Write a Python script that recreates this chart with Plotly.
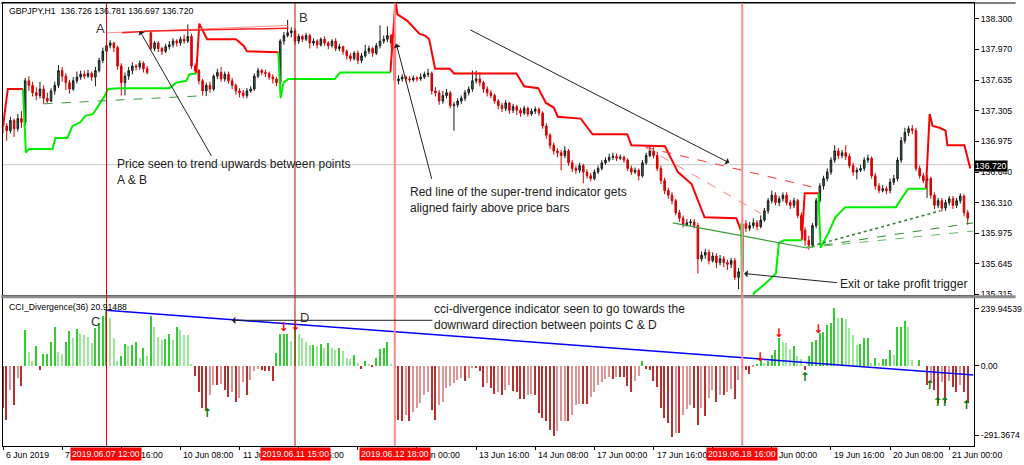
import plotly.graph_objects as go

# ---------------- price data (GBPJPY H1, bar index 0 = 6 Jun 2019 08:00) ----------------
opens = [
 137.20,137.14,137.09,137.20,137.11,137.22,137.18,137.63,137.58,137.50,
 137.47,137.54,137.44,137.41,137.52,137.58,137.74,137.68,137.61,137.54,
 137.63,137.67,137.70,137.68,137.71,137.67,137.74,137.85,137.95,138.01,
 138.04,137.99,137.79,137.61,137.68,137.74,137.79,137.78,137.82,137.76,
 138.15,137.98,138.04,137.98,137.95,138.00,138.02,138.06,138.04,138.08,
 138.06,138.11,137.79,137.74,137.63,137.52,137.58,137.54,137.68,137.72,
 137.65,137.70,137.63,137.58,137.52,137.50,137.47,137.52,137.54,137.68,
 137.74,137.72,137.71,137.67,137.65,137.61,138.06,138.12,138.15,138.17,
 138.06,138.11,138.08,138.12,138.04,138.06,138.02,138.08,138.04,138.01,
 138.06,137.98,138.00,137.95,137.90,137.87,137.93,137.85,137.90,137.95,
 137.98,137.93,138.01,138.06,138.08,138.12,138.04,137.63,137.65,137.67,
 137.65,137.64,137.66,137.65,137.67,137.70,137.71,137.52,137.50,137.41,
 137.47,137.50,137.36,137.37,137.41,137.44,137.50,137.54,137.63,137.65,
 137.61,137.54,137.50,137.47,137.41,137.36,137.33,137.39,137.31,137.35,
 137.31,137.28,137.33,137.27,137.30,137.32,137.28,137.14,137.04,136.93,
 136.87,136.85,136.82,136.87,136.74,136.68,136.66,136.71,136.64,136.60,
 136.57,136.64,136.68,136.74,136.77,136.80,136.81,136.79,136.80,136.77,
 136.68,136.64,136.66,136.60,136.74,136.82,136.87,136.82,136.68,136.55,
 136.44,136.39,136.33,136.20,136.14,136.07,136.09,136.10,136.06,135.70,
 135.74,135.77,135.68,135.73,135.66,135.70,135.66,135.64,135.68,135.50,
 135.56,136.08,136.03,136.06,136.09,136.05,136.12,136.22,136.33,136.39,
 136.31,136.35,136.39,136.31,136.28,136.33,136.17,136.01,135.90,135.85,
 136.06,136.33,136.49,136.57,136.64,136.77,136.87,136.82,136.85,136.81,
 136.71,136.64,136.66,136.68,136.77,136.79,136.60,136.49,136.44,136.46,
 136.44,136.53,136.57,136.77,136.98,137.07,137.11,137.09,136.68,136.60,
 136.55,136.57,136.39,136.28,136.33,136.25,136.31,136.35,136.28,136.33,
 136.38,136.20]
highs = [
 137.23,137.17,137.24,137.22,137.27,137.30,137.66,137.68,137.62,137.56,
 137.62,137.58,137.50,137.55,137.62,137.80,137.78,137.71,137.64,137.67,
 137.73,137.74,137.74,137.75,137.73,137.78,137.88,137.99,138.06,138.07,
 138.05,138.01,137.82,137.72,137.78,137.83,137.81,137.85,137.84,137.79,
 138.17,138.06,138.06,138.00,138.03,138.06,138.09,138.08,138.11,138.13,
 138.24,138.14,137.82,137.76,137.65,137.61,137.62,137.70,137.76,137.78,
 137.73,137.73,137.66,137.60,137.55,137.53,137.55,137.57,137.71,137.77,
 137.76,137.75,137.73,137.70,137.67,138.08,138.16,138.29,138.21,138.20,
 138.14,138.13,138.15,138.14,138.09,138.08,138.10,138.11,138.06,138.08,
 138.09,138.03,138.01,137.97,137.93,137.95,137.96,137.93,138.02,138.01,
 138.00,138.04,138.23,138.12,138.22,138.14,138.16,137.69,137.70,137.69,
 137.68,137.69,137.68,137.71,137.73,137.76,137.73,137.56,137.53,137.52,
 137.54,137.52,137.40,137.44,137.47,137.53,137.57,137.74,137.74,137.72,
 137.63,137.57,137.53,137.49,137.43,137.39,137.42,137.40,137.38,137.37,
 137.34,137.36,137.35,137.33,137.35,137.34,137.30,137.17,137.06,136.96,
 136.90,136.88,136.92,136.89,136.77,136.71,136.74,136.73,136.67,136.63,
 136.67,136.71,136.77,136.80,136.84,136.85,136.84,136.83,136.82,136.79,
 136.71,136.69,136.68,136.77,136.85,136.93,136.91,136.86,136.71,136.58,
 136.47,136.42,136.35,136.23,136.17,136.13,136.13,136.13,136.09,135.78,
 135.81,135.80,135.77,135.76,135.74,135.73,135.69,135.71,135.71,135.60,
 136.12,136.12,136.10,136.14,136.12,136.17,136.25,136.36,136.44,136.42,
 136.38,136.42,136.42,136.34,136.36,136.35,136.20,136.04,135.95,136.09,
 136.36,136.52,136.60,136.68,136.80,136.93,136.90,136.88,136.93,136.84,
 136.74,136.69,136.72,136.80,136.83,136.81,136.63,136.52,136.50,136.49,
 136.57,136.61,136.80,137.02,137.12,137.14,137.15,137.12,136.71,136.63,
 136.61,136.59,136.42,136.36,136.36,136.34,136.38,136.38,136.36,136.41,
 136.40,136.23]
lows = [
 137.06,136.98,137.06,137.02,137.08,137.12,137.15,137.52,137.46,137.42,
 137.44,137.38,137.39,137.40,137.48,137.55,137.62,137.53,137.49,137.52,
 137.60,137.64,137.65,137.66,137.63,137.57,137.72,137.82,137.93,137.98,
 137.94,137.75,137.47,137.47,137.64,137.70,137.74,137.75,137.72,137.70,
 137.96,137.95,137.94,137.91,137.93,137.97,137.99,138.00,138.01,138.03,
 138.04,137.76,137.70,137.59,137.47,137.47,137.50,137.52,137.65,137.62,
 137.62,137.60,137.54,137.48,137.45,137.44,137.44,137.50,137.52,137.66,
 137.69,137.67,137.64,137.60,137.57,137.58,138.02,138.10,138.10,138.02,
 138.03,138.05,138.06,137.98,138.01,137.98,138.00,138.01,137.97,137.99,
 137.95,137.95,137.91,137.86,137.84,137.85,137.81,137.82,137.88,137.92,
 137.89,137.91,137.98,138.03,138.05,137.99,137.58,137.59,137.62,137.62,
 137.61,137.62,137.62,137.63,137.65,137.67,137.48,137.46,137.37,137.38,
 137.44,137.33,137.09,137.34,137.38,137.41,137.47,137.51,137.60,137.57,
 137.50,137.46,137.44,137.38,137.32,137.29,137.30,137.27,137.28,137.26,
 137.24,137.26,137.24,137.25,137.27,137.25,137.11,137.00,136.89,136.83,
 136.80,136.66,136.79,136.71,136.64,136.62,136.63,136.52,136.57,136.54,
 136.55,136.62,136.66,136.72,136.75,136.77,136.76,136.77,136.74,136.65,
 136.61,136.62,136.55,136.58,136.72,136.80,136.79,136.65,136.51,136.40,
 136.35,136.29,136.17,136.10,136.04,136.05,136.06,136.03,135.54,135.67,
 135.70,135.64,135.66,135.60,135.63,135.61,135.58,135.60,135.47,135.37,
 135.50,135.99,136.00,136.03,136.01,136.03,136.10,136.19,136.30,136.28,
 136.27,136.32,136.28,136.24,136.25,136.14,135.97,135.84,135.80,135.82,
 136.03,136.30,136.45,136.54,136.61,136.74,136.78,136.79,136.77,136.68,
 136.60,136.56,136.64,136.65,136.74,136.57,136.45,136.41,136.42,136.40,
 136.41,136.50,136.54,136.74,136.95,137.03,137.05,136.65,136.57,136.52,
 136.36,136.35,136.24,136.25,136.21,136.22,136.28,136.24,136.25,136.30,
 136.16,136.07]
closes = [
 137.14,137.09,137.20,137.11,137.22,137.18,137.63,137.58,137.50,137.47,
 137.54,137.44,137.41,137.52,137.58,137.74,137.68,137.61,137.54,137.63,
 137.67,137.70,137.68,137.71,137.67,137.74,137.85,137.95,138.01,138.04,
 137.99,137.79,137.61,137.68,137.74,137.79,137.78,137.82,137.76,137.72,
 137.98,138.04,137.98,137.95,138.00,138.02,138.06,138.04,138.08,138.06,
 138.11,137.79,137.74,137.63,137.52,137.58,137.54,137.68,137.72,137.65,
 137.70,137.63,137.58,137.52,137.50,137.47,137.52,137.54,137.68,137.74,
 137.72,137.71,137.67,137.65,137.61,138.06,138.12,138.15,138.17,138.06,
 138.11,138.08,138.12,138.04,138.06,138.02,138.08,138.04,138.01,138.06,
 137.98,138.00,137.95,137.90,137.87,137.93,137.85,137.90,137.95,137.98,
 137.93,138.01,138.06,138.08,138.12,138.04,137.63,137.65,137.67,137.65,
 137.64,137.66,137.65,137.67,137.70,137.71,137.52,137.50,137.41,137.47,
 137.50,137.36,137.37,137.41,137.44,137.50,137.54,137.63,137.65,137.61,
 137.54,137.50,137.47,137.41,137.36,137.33,137.39,137.31,137.35,137.31,
 137.28,137.33,137.27,137.30,137.32,137.28,137.14,137.04,136.93,136.87,
 136.85,136.82,136.87,136.74,136.68,136.66,136.71,136.64,136.60,136.57,
 136.64,136.68,136.74,136.77,136.80,136.81,136.79,136.80,136.77,136.68,
 136.64,136.66,136.60,136.74,136.82,136.87,136.82,136.68,136.55,136.44,
 136.39,136.33,136.20,136.14,136.07,136.09,136.10,136.06,135.70,135.74,
 135.77,135.68,135.73,135.66,135.70,135.66,135.64,135.68,135.50,135.56,
 136.08,136.03,136.06,136.09,136.05,136.12,136.22,136.33,136.39,136.31,
 136.35,136.39,136.31,136.28,136.33,136.17,136.01,135.90,135.85,136.06,
 136.33,136.49,136.57,136.64,136.77,136.87,136.82,136.85,136.81,136.71,
 136.64,136.66,136.68,136.77,136.79,136.60,136.49,136.44,136.46,136.44,
 136.53,136.57,136.77,136.98,137.07,137.11,137.09,136.68,136.60,136.55,
 136.57,136.39,136.28,136.33,136.25,136.31,136.35,136.28,136.33,136.38,
 136.20,136.14]

# ---------------- super-trend knots (bar index, price); None separates segments ----------------
st_red_idx = [0, 1.3, 5.4, None,
              52.3, 53.1, 55.2, 63.0, 65.1, 66.0, 74.5, None,
              104.8, 106.2, 106.7, 109.4, 112.6, 114.2, 115.3, 116.9, 120.9, 122.0, 138.9, 141.0,
              144.8, 146.9, 149.0, 150.1, 156.3, 159.5, 168.9, 170.0, 179.1, 182.6, 186.3, 189.8,
              198.4, 199.6, None,
              216.1, 216.9, 220.6, None,
              249.7, 250.7, 251.5, 253.4, 255.0, 255.5, 260.1, 261.7]
st_red_price = [137.14, 137.54, 137.54, None,
                137.71, 138.25, 138.08, 138.08, 138.01, 137.95, 137.94, None,
                137.72, 138.50, 138.35, 138.28, 138.14, 138.12, 138.08, 137.76, 137.76, 137.71, 137.71, 137.57,
                137.55, 137.39, 137.34, 137.24, 137.22, 137.05, 137.05, 136.93, 136.92, 136.64, 136.51, 136.15,
                136.14, 136.01, None,
                135.90, 136.41, 136.41, None,
                136.46, 137.27, 137.14, 137.12, 137.09, 136.93, 136.93, 136.68]
st_green_idx = [5.4, 6.2, 7.0, 13.4, 14.2, 17.4, 18.8, 20.9, 22.3, 24.4, 26.3, 27.6, 28.4, 31.6, 45.0,
                46.9, 49.6, 50.4, 52.3, None,
                74.5, 75.1, 75.9, 77.2, 89.8, 91.2, 104.8, None,
                199.7, 200.0, 201.9, 203.2, 206.2, 209.1, 209.9, 211.3, 216.1, None,
                220.6, 221.2, 223.3, 225.2, 227.9, 241.6, 243.0, 244.9, 249.7]
st_green_price = [137.54, 136.85, 136.89, 136.89, 137.01, 137.01, 137.14, 137.18, 137.25, 137.27, 137.39,
                  137.47, 137.54, 137.55, 137.55, 137.61, 137.63, 137.70, 137.71, None,
                  137.94, 137.44, 137.61, 137.65, 137.65, 137.72, 137.72, None,
                  136.08, 135.15, 135.15, 135.33, 135.43, 135.54, 135.87, 135.90, 135.90, None,
                  136.41, 135.82, 135.98, 136.15, 136.26, 136.26, 136.35, 136.46, 136.46]

# ---------------- divergence lines drawn on price ----------------
bear_div_a_idx, bear_div_a_price = [28.2, 77.2], [138.15, 138.23]
bear_div_b_idx, bear_div_b_price = [32.2, 40.2, 77.2], [138.15, 138.17, 138.20]
bear_div_c_idx, bear_div_c_price = [173.7, 219.8, 221.2], [136.91, 136.47, 136.47]
bear_div_d_idx, bear_div_d_price = [173.7, 205.1], [136.91, 136.19]
bull_div_a_idx, bull_div_a_price = [11.0, 55.2], [137.38, 137.47]
bull_div_b_idx, bull_div_b_price = [181.2, 217.2], [136.09, 135.82]
bull_div_c_idx, bull_div_c_price = [217.2, 253.6], [135.82, 136.22]
bull_div_d_idx, bull_div_d_price = [217.2, 262.5], [135.82, 136.09]
bull_div_e_idx, bull_div_e_price = [217.2, 262.5], [135.82, 136.00]

# ---------------- CCI divergence (36) ----------------
cci = [
 -179,-227,-102,-165,-53,-84,149,56,21,80,
 -18,47,47,100,163,56,47,100,145,114,
 152,131,128,121,93,156,177,209,233,198,
 117,17,38,89,80,86,98,33,73,38,
 209,163,121,107,112,131,107,160,149,128,
 126,3,-46,-112,-179,-186,-123,-81,-81,-78,
 -102,-133,-109,-151,-137,-70,-123,-60,-22,-14,
 -18,-22,-22,-67,52,131,131,131,103,170,
 131,114,98,84,86,80,89,75,93,73,
 66,75,59,31,28,45,10,-14,17,3,
 -4,33,70,73,100,6,-10,-227,-234,-209,
 -234,-195,-179,-158,-123,-109,-186,-227,-165,-151,
 -95,-84,-74,-60,-53,-64,-53,-11,-11,-22,
 -88,-74,-95,-120,-109,-123,-102,-81,-106,-109,
 -140,-140,-123,-120,-123,-200,-218,-232,-269,-297,
 -276,-234,-232,-232,-206,-165,-162,-162,-162,-134,
 -109,-81,-70,-56,-50,-56,-50,-50,-50,-84,
 -112,-67,-46,17,-14,-18,-67,-88,-179,-220,
 -241,-301,-283,-283,-206,-181,-165,-179,-251,-179,
 -213,-137,-102,-151,-123,-123,-109,-98,-140,-60,
 -10,-18,-36,-4,3,24,10,17,45,66,
 117,100,93,70,80,38,28,-18,38,100,
 107,135,142,170,177,240,198,201,195,159,
 128,86,89,114,117,10,33,10,28,28,
 66,45,163,163,187,163,24,0,24,0,
 -81,-70,-102,-158,-70,-158,-67,-88,-109,-81,
 -109,-158]
cci_trend_idx, cci_trend_val = [28, 262.5], [233, -38]
sell_arrow_idx, sell_arrow_val = [75.9, 79.1, 204.8, 209.9, 220.6], [158, 162, 32, 133, 149]
buy_arrow_idx, buy_arrow_val = [55.2, 216.9, 250.7, 252.8, 254.7, 260.6], [-202, -51, -85, -156, -156, -168]

# ---------------- axis labels ----------------
price_ticks = [138.300, 137.970, 137.635, 137.305, 136.975, 136.640, 136.310, 135.975, 135.645, 135.315]
cci_ticks = [239.94539, 0.0, -291.3674]
cci_tick_text = ["239.94539", "0.00", "-291.3674"]
time_tick_idx = [0, 16, 32, 48, 64, 80, 96, 112, 128, 144, 160, 176, 192, 208, 224, 240, 256]
# visible part of each time label (some are partly hidden behind the red date tags)
time_tick_text = ["6 Jun 2019", "7", "16:00", "10 Jun 08:00", "11 Ju", "5:00",
                  "", "un 00:00", "13 Jun 16:00", "14 Jun 08:00", "17 Jun 00:00",
                  "17 Jun 16:00", "", "Jun 00:00", "19 Jun 16:00", "20 Jun 08:00",
                  "21 Jun 00:00"]
# trailing fragments are right-aligned to where the full label would end (pixel offset)
time_tick_tail = [None, None, 44, None, None, 47, None, 45, None, None, None, None, None, 47,
                  None, None, None]
marked_idx = [28, 79, 106, 200]
marked_text = ["2019.06.07 12:00", "2019.06.11 15:00", "2019.06.12 18:00", "2019.06.18 16:00"]
last_price = 136.720

# ---------------- layout geometry (pixels of the 1024x465 page) ----------------
W, H = 1024, 465
L_PX, R_PX, T_PX, B_PX = 2, 982, 2, 446
MAIN_BOTTOM_PX, SUB_TOP_PX = 295, 298
FONT = "Liberation Sans, Arial, sans-serif"


def px(xp):
    return (xp - L_PX) / (R_PX - L_PX)


def py(yp):
    return (B_PX - yp) / (B_PX - T_PX)


idx = list(range(len(closes)))

fig = go.Figure()
fig.add_trace(go.Candlestick(
    x=idx, open=opens, high=highs, low=lows, close=closes,
    increasing=dict(line=dict(color="#1a1a1a", width=1), fillcolor="#2e7a4e"),
    decreasing=dict(line=dict(color="#d40000", width=1), fillcolor="#e00000"),
    whiskerwidth=0, showlegend=False, hoverinfo="skip", xaxis="x", yaxis="y"))

fig.add_trace(go.Scatter(x=st_red_idx, y=st_red_price, mode="lines", connectgaps=False,
                         line=dict(color="#ff0000", width=2), showlegend=False, hoverinfo="skip"))
fig.add_trace(go.Scatter(x=st_green_idx, y=st_green_price, mode="lines", connectgaps=False,
                         line=dict(color="#00ee00", width=2), showlegend=False, hoverinfo="skip"))

for xs, ys, col, w, dash in [
    (bear_div_a_idx, bear_div_a_price, "#ff9090", 1, "solid"),
    (bear_div_b_idx, bear_div_b_price, "#ff2020", 1.5, "solid"),
    (bear_div_c_idx, bear_div_c_price, "#ff3030", 1, "dash"),
    (bear_div_d_idx, bear_div_d_price, "#ff8080", 1, "dash"),
    (bull_div_a_idx, bull_div_a_price, "#3a9a3a", 1, "dash"),
    (bull_div_b_idx, bull_div_b_price, "#3a9a3a", 1.2, "solid"),
    (bull_div_c_idx, bull_div_c_price, "#2e7d2e", 1.5, "dot"),
    (bull_div_d_idx, bull_div_d_price, "#2e8b2e", 1, "dash"),
    (bull_div_e_idx, bull_div_e_price, "#66bb66", 1, "dash"),
]:
    fig.add_trace(go.Scatter(x=xs, y=ys, mode="lines", line=dict(color=col, width=w, dash=dash),
                             showlegend=False, hoverinfo="skip"))

# CCI histogram colours (style only)
cci_colors = []
prev = 0
for v in cci:
    if v >= 0:
        cci_colors.append("#33cc33" if v >= prev else "#9be89b")
    else:
        cci_colors.append("#b83030" if v <= prev else "#e09595")
    prev = v

fig.add_trace(go.Bar(x=idx, y=cci, width=0.38, marker=dict(color=cci_colors, line=dict(width=0)),
                     showlegend=False, hoverinfo="skip", xaxis="x2", yaxis="y2"))
fig.add_trace(go.Scatter(x=cci_trend_idx, y=cci_trend_val, mode="lines", line=dict(color="#0000ff", width=1.5),
                         showlegend=False, hoverinfo="skip", xaxis="x2", yaxis="y2"))
fig.add_trace(go.Scatter(x=sell_arrow_idx, y=sell_arrow_val, mode="text", text=["<b>\u2193</b>"] * len(sell_arrow_idx),
                         textfont=dict(family="DejaVu Sans", size=12, color="#ff0000"),
                         showlegend=False, hoverinfo="skip", xaxis="x2", yaxis="y2"))
fig.add_trace(go.Scatter(x=buy_arrow_idx, y=buy_arrow_val, mode="text", text=["<b>\u2191</b>"] * len(buy_arrow_idx),
                         textfont=dict(family="DejaVu Sans", size=12, color="#0a7a0a"),
                         showlegend=False, hoverinfo="skip", xaxis="x2", yaxis="y2"))

xrange = [0.0, 262.7]
main_dom = [py(MAIN_BOTTOM_PX), 1.0]
sub_dom = [0.0, py(SUB_TOP_PX)]

axis_common = dict(showgrid=False, zeroline=False, showline=True, linecolor="#000000", linewidth=1, mirror=True)
fig.update_layout(
    width=W, height=H,
    margin=dict(l=L_PX, r=W - R_PX, t=T_PX, b=H - B_PX, pad=0),
    paper_bgcolor="white", plot_bgcolor="white",
    showlegend=False, boxgap=0.4, bargap=0,
    font=dict(family=FONT, size=9, color="#000000"),
    xaxis=dict(domain=[0, 1], range=xrange, anchor="y", showticklabels=False, ticks="",
               rangeslider=dict(visible=False), **axis_common),
    yaxis=dict(domain=main_dom, range=[135.304, 138.473], side="right", anchor="x",
               tickvals=price_ticks, ticktext=["%.3f" % v for v in price_ticks],
               ticks="outside", ticklen=4, tickcolor="#000000",
               tickfont=dict(family=FONT, size=8.7, color="#000000"), **axis_common),
    xaxis2=dict(domain=[0, 1], matches="x", range=xrange, anchor="y2", showticklabels=False,
                tickvals=time_tick_idx, ticks="outside", ticklen=3, tickcolor="#000000", **axis_common),
    yaxis2=dict(domain=sub_dom, range=[-336, 283], side="right", anchor="x2",
                tickvals=cci_ticks, ticktext=cci_tick_text, ticks="outside", ticklen=4, tickcolor="#000000",
                tickfont=dict(family=FONT, size=8.7, color="#000000"), **axis_common),
)

shapes = []
shapes.append(dict(type="rect", xref="paper", yref="paper", x0=px(0), x1=px(W), y0=sub_dom[1], y1=main_dom[0],
                   fillcolor="#8c8c8c", line=dict(width=0), layer="above"))
shapes.append(dict(type="line", xref="paper", yref="paper", x0=px(0), x1=px(W), y0=1, y1=1,
                   line=dict(color="#000000", width=1)))
shapes.append(dict(type="line", xref="paper", yref="y", x0=0, x1=1, y0=last_price, y1=last_price,
                   line=dict(color="#c8c8c8", width=1), layer="below"))
for k, m in enumerate(marked_idx):
    if k < 2:
        shapes.append(dict(type="line", xref="x", yref="paper", x0=m, x1=m, y0=0, y1=1,
                           line=dict(color="#e00000", width=1)))
    else:
        shapes.append(dict(type="line", xref="x", yref="paper", x0=m, x1=m, y0=0, y1=1,
                           line=dict(color="#ff8a8a", width=2)))
fig.update_layout(shapes=shapes)

ann = []
for t, s, tail in zip(time_tick_idx, time_tick_text, time_tick_tail):
    if not s:
        continue
    if tail is None:
        ann.append(dict(xref="x", yref="paper", x=t, y=py(455), text=s, showarrow=False, xanchor="left",
                        yanchor="middle", xshift=1, font=dict(family=FONT, size=8.7, color="#000000")))
    else:
        ann.append(dict(xref="x", yref="paper", x=t, y=py(455), text=s, showarrow=False, xanchor="right",
                        yanchor="middle", xshift=tail, font=dict(family=FONT, size=8.7, color="#000000")))
for m, s in zip(marked_idx, marked_text):
    ann.append(dict(xref="x", yref="paper", x=m, y=py(454), text=s, showarrow=False, xanchor="center",
                    yanchor="middle", bgcolor="#ff0000", borderpad=1,
                    font=dict(family=FONT, size=8.7, color="#ffffff")))
ann.append(dict(xref="paper", yref="y", x=px(982), y=last_price, text="136.720", showarrow=False,
                xanchor="left", yanchor="middle", yshift=-1, bgcolor="#000000", borderpad=0,
                font=dict(family=FONT, size=8.7, color="#ffffff")))
ann.append(dict(xref="paper", yref="paper", x=px(6), y=py(10), text="GBPJPY,H1  136.726 136.781 136.697 136.720",
                showarrow=False, xanchor="left", yanchor="middle", font=dict(family=FONT, size=8.7, color="#000000")))
ann.append(dict(xref="paper", yref="paper", x=px(6), y=py(307), text="CCI_Divergence(36) 20.91488",
                showarrow=False, xanchor="left", yanchor="middle", font=dict(family=FONT, size=8.7, color="#000000")))
for s, xp, yp in [("A", 100, 28), ("B", 305, 17), ("C", 95, 321), ("D", 306, 317)]:
    ann.append(dict(xref="paper", yref="paper", x=px(xp), y=py(yp), text=s, showarrow=False,
                    xanchor="center", yanchor="middle", font=dict(family=FONT, size=13, color="#333333")))
for s, xp, yp in [
    ("Price seen to trend upwards between points<br>A &amp; B", 115, 154),
    ("Red line of the super-trend indicator gets<br>aligned fairly above price bars", 411, 182),
    ("cci-divergence indicator seen to go towards the<br>downward direction between points C &amp; D", 435, 300),
]:
    ann.append(dict(xref="paper", yref="paper", x=px(xp), y=py(yp), text=s, showarrow=False, align="left",
                    xanchor="left", yanchor="top", font=dict(family=FONT, size=12, color="#222222")))
ann.append(dict(xref="paper", yref="paper", x=px(845), y=py(284), text="Exit or take profit trigger",
                showarrow=False, xanchor="left", yanchor="middle", font=dict(family=FONT, size=12, color="#222222")))
for xr, yr, hx, hy, tx, ty in [
    ("x", "y", 37.0, 138.17, 56.6, 136.80),
    ("x", "y", 106.4, 138.03, 116.1, 136.55),
    ("x", "y", 196.5, 136.74, 126.0, 138.19),
    ("x", "y", 200.5, 135.54, 226.0, 135.44),
    ("x2", "y2", 61.9, 191, 116.6, 191),
]:
    ann.append(dict(xref=xr, yref=yr, x=hx, y=hy, axref=xr, ayref=yr, ax=tx, ay=ty, text="",
                    showarrow=True, arrowhead=1, arrowsize=1.2, arrowwidth=1, arrowcolor="#222222"))
fig.update_layout(annotations=ann)

fig.write_html("out.html")
